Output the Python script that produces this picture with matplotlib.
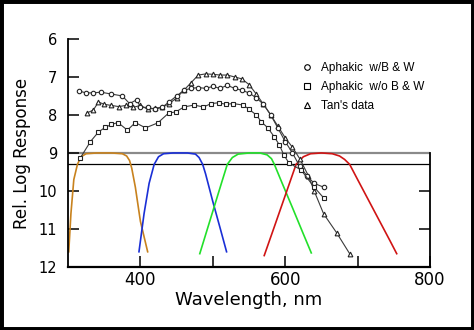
import matplotlib.pyplot as plt
from matplotlib.lines import Line2D
from matplotlib.patches import Rectangle

# measured response curves (wavelength nm, rel. log response)
wl_bw = [315, 325, 335, 345, 360, 375, 385, 395, 400, 410, 420, 430, 440, 450, 460,
         470, 480, 490, 500, 510, 520, 530, 540, 550, 560, 570, 580, 590, 600, 610,
         620, 630, 640, 653]
resp_bw = [7.37, 7.42, 7.42, 7.40, 7.45, 7.50, 7.70, 7.60, 7.80, 7.80, 7.85, 7.80, 7.65, 7.50, 7.35,
           7.30, 7.28, 7.30, 7.25, 7.30, 7.22, 7.30, 7.35, 7.42, 7.55, 7.72, 8.00, 8.35, 8.70, 9.00,
           9.35, 9.60, 9.80, 9.90]

wl_nobw = [317, 331, 342, 351, 360, 369, 382, 393, 407, 424, 439, 449, 460, 474, 487,
           498, 508, 518, 528, 542, 550, 560, 567, 576, 585, 592, 598, 605, 622, 640, 653]
resp_nobw = [9.13, 8.70, 8.45, 8.33, 8.25, 8.20, 8.40, 8.20, 8.34, 8.21, 7.95, 7.92, 7.79, 7.74, 7.79,
             7.70, 7.68, 7.72, 7.70, 7.74, 7.85, 8.00, 8.18, 8.34, 8.58, 8.79, 9.05, 9.26, 9.45, 9.90, 10.18]

wl_tan = [326, 335, 342, 350, 360, 370, 380, 390, 400, 410, 420, 430, 440, 450, 460,
          470, 480, 490, 500, 510, 520, 530, 540, 550, 560, 570, 580, 590, 600, 610,
          620, 632, 640, 653, 671, 689]
resp_tan = [7.95, 7.87, 7.66, 7.72, 7.75, 7.78, 7.75, 7.80, 7.75, 7.85, 7.82, 7.80, 7.70, 7.55, 7.35,
            7.15, 6.95, 6.92, 6.93, 6.95, 6.95, 7.00, 7.05, 7.20, 7.45, 7.72, 8.00, 8.30, 8.60, 8.85,
            9.15, 9.60, 10.00, 10.60, 11.10, 11.65]

# filter passbands
wl_orange = [301, 304, 308, 313, 318, 325, 340, 360, 375, 381, 385, 388, 393, 400, 410]
val_orange = [11.6, 10.6, 9.7, 9.3, 9.1, 9.02, 9.0, 9.0, 9.02, 9.08, 9.2, 9.4, 9.9, 10.8, 11.6]
wl_blue = [398, 405, 412, 419, 425, 432, 445, 465, 476, 481, 486, 490, 500, 510, 519]
val_blue = [11.6, 10.6, 9.8, 9.3, 9.1, 9.02, 9.0, 9.0, 9.03, 9.12, 9.3, 9.55, 10.28, 10.97, 11.6]
wl_green = [482, 492, 502, 512, 520, 527, 535, 550, 565, 575, 581, 585, 595, 610, 625, 636]
val_green = [11.65, 11.03, 10.41, 9.79, 9.3, 9.12, 9.03, 9.0, 9.0, 9.05, 9.15, 9.3, 9.76, 10.44, 11.13, 11.63]
wl_red = [571, 585, 600, 615, 625, 635, 650, 665, 675, 682, 689, 700, 715, 730, 745, 754]
val_red = [11.7, 10.94, 10.12, 9.3, 9.1, 9.02, 9.0, 9.02, 9.08, 9.17, 9.3, 9.7, 10.24, 10.78, 11.32, 11.65]

ref_levels = [9.0, 9.3]

fig = plt.figure(figsize=(4.74, 3.30), dpi=100)
ax = fig.add_axes([0.1435, 0.191, 0.7637, 0.691])

# reference lines
ax.axhline(ref_levels[0], color='#8a8a8a', lw=1.6, zorder=1)
ax.axhline(ref_levels[1], color='black', lw=0.9, zorder=1)

# filter curves
ax.plot(wl_orange, val_orange, color='#c8821e', lw=1.2)
ax.plot(wl_blue, val_blue, color='#1a2fd6', lw=1.2)
ax.plot(wl_green, val_green, color='#22e02a', lw=1.2)
ax.plot(wl_red, val_red, color='#d01414', lw=1.2)

# data curves
mk = dict(color='#3a3a3a', lw=0.8, mfc='white', mec='#222222', mew=0.8)
ax.plot(wl_tan, resp_tan, marker='^', ms=3.4, **mk)
ax.plot(wl_bw, resp_bw, marker='o', ms=3.2, **mk)
ax.plot(wl_nobw, resp_nobw, marker='s', ms=3.2, **mk)

ax.set_xlim(300, 800)
ax.set_ylim(12, 6)

ax.spines['top'].set_visible(False)
ax.spines['left'].set_linewidth(1.3)
ax.spines['bottom'].set_linewidth(1.6)
ax.spines['right'].set_linewidth(1.3)
ax.spines['right'].set_bounds(9, 12)

ax.set_xticks([400, 500, 600, 700, 800])
ax.set_xticklabels(['400', '', '600', '', '800'])
ax.set_yticks([6, 7, 8, 9, 10, 11, 12])
ax.tick_params(direction='in', length=8, width=1.1)
ax.tick_params(axis='x', labelsize=12, pad=3)
ax.tick_params(axis='y', labelsize=10.5, pad=8)

# right-side ticks only in the lower part
ax2 = ax.twinx()
ax2.set_ylim(12, 6)
ax2.set_yticks([10, 11])
ax2.tick_params(direction='in', length=8, width=1.1, labelright=False)
for s in ['top', 'left', 'bottom', 'right']:
    ax2.spines[s].set_visible(False)

ax.set_xlabel('Wavelength, nm', fontsize=13, labelpad=1)
ax.set_ylabel('Rel. Log Response', fontsize=12, labelpad=5)

handles = [Line2D([], [], marker='o', ls='none', ms=4, mfc='white', mec='k', mew=0.8),
           Line2D([], [], marker='s', ls='none', ms=4, mfc='white', mec='k', mew=0.8),
           Line2D([], [], marker='^', ls='none', ms=4, mfc='white', mec='k', mew=0.8)]
ax.legend(handles, ['Aphakic  w/B & W', 'Aphakic  w/o B & W', "Tan's data"],
          frameon=False, loc='upper left', bbox_to_anchor=(0.61, 0.945),
          prop={'family': 'Liberation Sans', 'size': 8.5},
          handletextpad=0.6, labelspacing=0.6, handlelength=1.2)

# black frame around the picture
fig.patches.append(Rectangle((0, 0), 1, 1, transform=fig.transFigure,
                             fill=False, edgecolor='black', lw=5))

fig.savefig('out.png', dpi=100)
